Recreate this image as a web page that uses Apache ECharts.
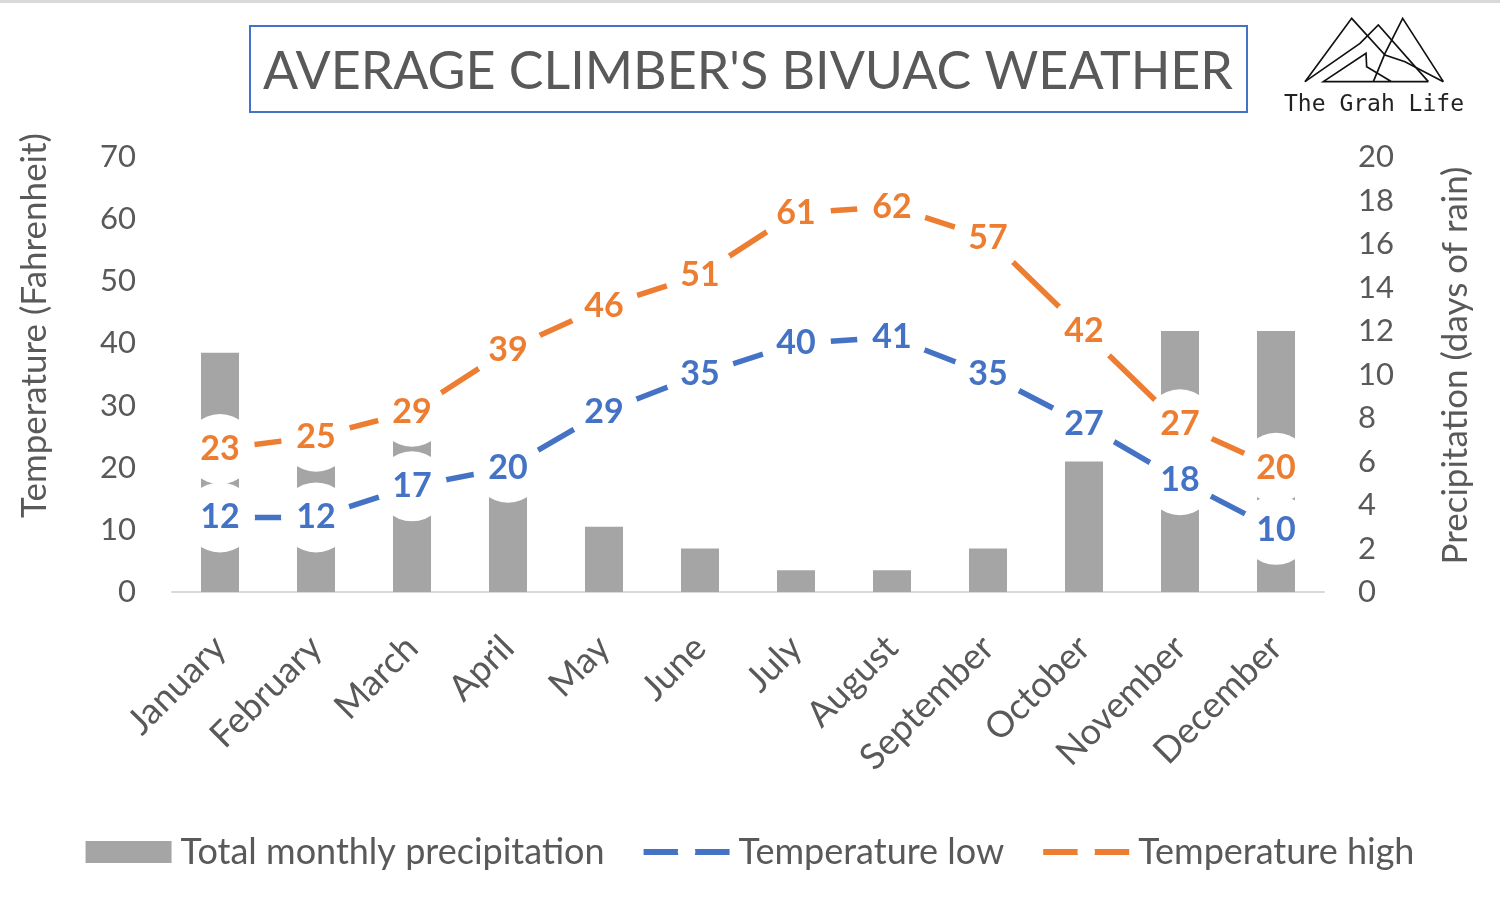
<!DOCTYPE html>
<html>
<head>
<meta charset="utf-8">
<title>Average climber's bivuac weather</title>
<script src="https://cdn.jsdelivr.net/npm/echarts@6/dist/echarts.min.js"></script>
<style>
  html, body { margin: 0; padding: 0; background: #fff; }
  #chart { width: 1500px; height: 901px; }
</style>
</head>
<body>
<div id="chart"></div>
<script>
// data
var months = ['January', 'February', 'March', 'April', 'May', 'June', 'July',
  'August', 'September', 'October', 'November', 'December']
var precipitation = [11, 7, 9, 6, 3, 2, 1, 1, 2, 6, 12, 12]
var tempLow = [12, 12, 17, 20, 29, 35, 40, 41, 35, 27, 18, 10]
var tempHigh = [23, 25, 29, 39, 46, 51, 61, 62, 57, 42, 27, 20]

var FONT = 'Lato'
var GREY_TEXT = '#595959'

// temperature line: solid stroke, big white round markers with the value inside
function tempSeries(name, color, data) {
  return {
    name: name,
    type: 'line',
    yAxisIndex: 0,
    symbol: 'circle',
    symbolSize: 70,
    itemStyle: { color: '#fff', borderWidth: 0 },
    lineStyle: { color: color, width: 5.5, cap: 'butt' },
    label: {
      show: true,
      position: 'inside',
      fontFamily: FONT,
      fontSize: 34,
      fontWeight: 'bold',
      color: color
    },
    data: data,
    z: 3
  }
}

var chart = echarts.init(document.getElementById('chart'))

chart.setOption({
  backgroundColor: '#fff',
  animation: false,
  textStyle: { fontFamily: FONT },
  grid: {
    left: 172,
    right: 176,
    top: 157,
    bottom: 309
  },
  legend: {
    bottom: 26,
    left: 'center',
    itemWidth: 86,
    itemHeight: 22,
    itemGap: 36,
    textStyle: { fontSize: 36, color: GREY_TEXT, fontFamily: FONT, padding: [0, 0, 0, 4] },
    lineStyle: { width: 6 },
    data: [
      { name: 'Total monthly precipitation', icon: 'rect' },
      'Temperature low',
      'Temperature high'
    ]
  },
  xAxis: {
    type: 'category',
    data: months,
    axisLine: { lineStyle: { color: '#d9d9d9', width: 2 } },
    axisTick: { show: false },
    axisLabel: {
      rotate: 45,
      fontSize: 36,
      color: GREY_TEXT,
      margin: 50,
      interval: 0
    }
  },
  yAxis: [
    {
      type: 'value',
      min: 0,
      max: 70,
      interval: 10,
      name: 'Temperature (Fahrenheit)',
      nameLocation: 'middle',
      nameGap: 120,
      nameTextStyle: { fontSize: 35, color: GREY_TEXT, padding: [0, 0, 0, 98] },
      splitLine: { show: false },
      axisLine: { show: false },
      axisLabel: { fontSize: 31, color: GREY_TEXT, margin: 36 }
    },
    {
      type: 'value',
      min: 0,
      max: 20,
      interval: 2,
      name: 'Precipitation (days of rain)',
      nameLocation: 'middle',
      nameGap: 114,
      nameTextStyle: { fontSize: 35, color: GREY_TEXT, padding: [0, 0, 0, 18] },
      splitLine: { show: false },
      axisLine: { show: false },
      axisLabel: { fontSize: 31, color: GREY_TEXT, margin: 34 }
    }
  ],
  series: [
    {
      name: 'Total monthly precipitation',
      type: 'bar',
      yAxisIndex: 1,
      barWidth: 38,
      itemStyle: { color: '#a5a5a5' },
      data: precipitation,
      z: 1
    },
    tempSeries('Temperature low', '#4472c4', tempLow),
    tempSeries('Temperature high', '#ed7d31', tempHigh)
  ],
  graphic: [
    // thin grey rule along the top edge
    { type: 'rect', left: 0, top: 0, shape: { width: 1500, height: 3 }, style: { fill: '#d9d9d9' } },
    // title box
    {
      type: 'rect',
      shape: { x: 250, y: 26, width: 997, height: 86 },
      style: { fill: 'none', stroke: '#4472c4', lineWidth: 2 }
    },
    {
      type: 'text',
      x: 748,
      y: 72,
      style: {
        text: "AVERAGE CLIMBER'S BIVUAC WEATHER",
        fontFamily: FONT,
        fontSize: 52,
        fill: GREY_TEXT,
        align: 'center',
        verticalAlign: 'middle'
      }
    },
    // logo
    {
      type: 'group',
      x: 1270,
      y: 10,
      scaleX: 1 / 3,
      scaleY: 1 / 3,
      children: [
        { type: 'polyline', shape: { points: [[105, 215], [245, 25], [345, 135], [405, 155], [520, 215]] }, style: { stroke: '#111', fill: 'none', lineWidth: 5 } },
        { type: 'polyline', shape: { points: [[105, 215], [270, 100], [325, 45], [475, 215]] }, style: { stroke: '#111', fill: 'none', lineWidth: 5 } },
        { type: 'polyline', shape: { points: [[310, 215], [345, 130], [398, 25], [520, 215]] }, style: { stroke: '#111', fill: 'none', lineWidth: 5 } },
        { type: 'polyline', shape: { points: [[475, 215], [160, 215], [288, 130], [290, 170], [365, 215]] }, style: { stroke: '#111', fill: 'none', lineWidth: 5 } }
      ]
    },
    {
      type: 'text',
      x: 1374,
      y: 105,
      style: {
        text: 'The Grah Life',
        fontFamily: 'DejaVu Sans Mono',
        fontSize: 23,
        fill: '#222',
        align: 'center',
        verticalAlign: 'middle'
      }
    }
  ]
})
</script>
</body>
</html>
